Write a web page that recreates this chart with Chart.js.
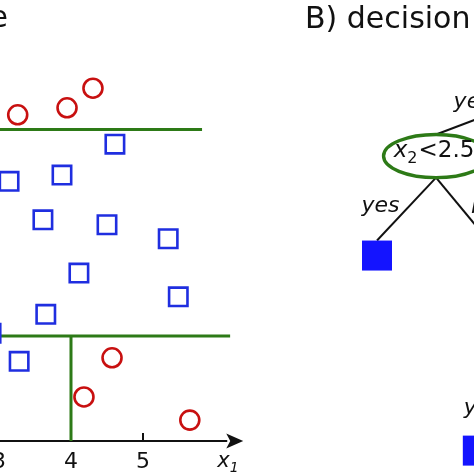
<!DOCTYPE html>
<html>
<head>
<meta charset="utf-8">
<title>feature space and decision tree</title>
<script src="https://cdn.jsdelivr.net/npm/chart.js@4.4.1/dist/chart.umd.min.js"></script>
<style>
  html, body { margin: 0; padding: 0; background: #fff; }
  canvas { display: block; }
</style>
</head>
<body>
<canvas id="chart" width="474" height="474"></canvas>
<script>
// Scatter points (x1, x2)
const circleX1 = [3.26, 3.945, 4.305, 4.57, 4.18, 5.65];
const circleX2 = [5.66, 5.76, 6.04, 2.19, 1.63, 1.30];
const squareX1 = [4.61, 3.14, 3.875, 3.61, 4.50, 5.35, 4.11, 5.49, 3.65, 2.89, 3.28];
const squareX2 = [5.24, 4.71, 4.80, 4.16, 4.09, 3.89, 3.40, 3.06, 2.81, 2.54, 2.14];
const xTicks = [3, 4, 5];

// Split lines found by the tree
const splitHigh = 5.45;
const splitLow = 2.5;
const splitX1 = 4;
const highLineEnd = 5.82;
const lowLineEnd = 6.21;

// x1 axis (crosses at x2 = 1)
const axisX2 = 1;
const axisFrom = 2.9;
const axisTo = 6.17;

// Decision tree, node centres in the same units (mostly right of the plot)
const nodeX = [11.9, 9.07, 10.375];
const nodeY = [6.786, 5.071, 2.836];
const nodeVar = ['x', 'x', 'x'];
const nodeSub = ['2', '2', '1'];
const nodeTest = ['<5.5', '<2.5', '<4'];
const leafX = [8.25, 9.65, 13.4, 11.1];
const leafY = [3.65, 0.864, 5.07, 0.864];
const leafClass = ['square', 'square', 'circle', 'circle'];
const edgeFrom = [0, 1, 1, 2, 0, 2];
const edgeTo = ['n1', 'l0', 'n2', 'l1', 'l2', 'l3'];
const edgeText = ['yes', 'yes', 'no', 'yes', 'no', 'no'];

// where each edge label sits (fraction along edge + pixel shift)
const edgeLabelPos = [
    { t: 0.85, dx: -13, dy: -15, align: 'left' },
    { t: 0.5, dx: -7, dy: 3, align: 'right' },
    { t: 0.277, dx: 9, dy: 4, align: 'left' },
    { t: 0.75, dx: -27, dy: 4, align: 'left' },
    { t: 0.5, dx: 8, dy: 4, align: 'left' },
    { t: 0.5, dx: 8, dy: 4, align: 'left' }
];

const FONT = '"DejaVu Sans", sans-serif';
const RED = '#c81010';
const BLUE = '#1f2ee0';
const LEAF_BLUE = '#1414ff';
const GREEN = '#2d7a17';
const NODE_RX = 52.5, NODE_RY = 21.6, LEAF_HALF = 15;

function pts(xs, ys) {
    return xs.map((x, i) => ({ x: x, y: ys[i] }));
}

function edgeEnds(xs, ys, from, to) {
    const a = { x: xs.getPixelForValue(nodeX[from]), y: ys.getPixelForValue(nodeY[from]) + NODE_RY };
    const idx = parseInt(to.slice(1));
    let b;
    if (to[0] === 'n') {
        b = { x: xs.getPixelForValue(nodeX[idx]), y: ys.getPixelForValue(nodeY[idx]) - NODE_RY };
    } else {
        b = { x: xs.getPixelForValue(leafX[idx]), y: ys.getPixelForValue(leafY[idx]) - LEAF_HALF };
    }
    return [a, b];
}

// x with subscript, then the rest upright
function mathWidth(c, v, sub, rest, size) {
    c.font = 'italic ' + size + 'px ' + FONT;
    let w = c.measureText(v).width;
    c.font = Math.round(size * 0.68) + 'px ' + FONT;
    w += c.measureText(sub).width;
    if (rest) {
        c.font = size + 'px ' + FONT;
        w += c.measureText(rest).width + 1;
    }
    return w;
}

function drawMath(c, x, y, v, sub, rest, size, subItalic) {
    c.textAlign = 'left';
    c.textBaseline = 'alphabetic';
    c.font = 'italic ' + size + 'px ' + FONT;
    c.fillText(v, x, y);
    x += c.measureText(v).width;
    c.font = (subItalic ? 'italic ' : '') + Math.round(size * 0.68) + 'px ' + FONT;
    c.fillText(sub, x, y + size * 0.24);
    x += c.measureText(sub).width;
    if (rest) {
        c.font = size + 'px ' + FONT;
        c.fillText(rest, x + 1, y);
    }
}

const treeAndText = {
    id: 'treeAndText',
    beforeDatasetsDraw(chart) {
        const c = chart.ctx, xs = chart.scales.x, ys = chart.scales.y;
        c.save();
        c.strokeStyle = '#111';
        c.lineWidth = 2;
        edgeFrom.forEach((f, i) => {
            const [a, b] = edgeEnds(xs, ys, f, edgeTo[i]);
            c.beginPath();
            c.moveTo(a.x, a.y);
            c.lineTo(b.x, b.y);
            c.stroke();
        });
        c.restore();
    },
    afterDatasetsDraw(chart) {
        const c = chart.ctx, xs = chart.scales.x, ys = chart.scales.y;
        c.save();
        c.fillStyle = '#111';

        // tree nodes
        nodeX.forEach((nx, i) => {
            const cx = xs.getPixelForValue(nx), cy = ys.getPixelForValue(nodeY[i]);
            c.beginPath();
            c.ellipse(cx, cy, NODE_RX, NODE_RY, 0, 0, Math.PI * 2);
            c.fillStyle = '#fff';
            c.fill();
            c.strokeStyle = GREEN;
            c.lineWidth = 3.4;
            c.stroke();
            c.fillStyle = '#111';
            const w = mathWidth(c, nodeVar[i], nodeSub[i], nodeTest[i], 23);
            drawMath(c, cx - w / 2 - 2, cy + 1, nodeVar[i], nodeSub[i], nodeTest[i], 23, false);
        });

        // edge labels
        c.font = 'italic 22px ' + FONT;
        c.textBaseline = 'alphabetic';
        edgeFrom.forEach((f, i) => {
            const [a, b] = edgeEnds(xs, ys, f, edgeTo[i]);
            const p = edgeLabelPos[i];
            c.textAlign = p.align;
            c.fillText(edgeText[i], a.x + (b.x - a.x) * p.t + p.dx, a.y + (b.y - a.y) * p.t + p.dy);
        });

        // arrow head on the x1 axis
        const meta = chart.getDatasetMeta(chart.data.datasets.findIndex(d => d.label === 'axis'));
        const end = meta.data[meta.data.length - 1];
        c.beginPath();
        c.moveTo(end.x + 16, end.y);
        c.lineTo(end.x - 1, end.y - 7.5);
        c.lineTo(end.x + 3, end.y);
        c.lineTo(end.x - 1, end.y + 7.5);
        c.closePath();
        c.fill();
        drawMath(c, end.x - 10, end.y + 26, 'x', '1', '', 21, true);

        // panel titles
        c.font = '30px ' + FONT;
        c.textBaseline = 'alphabetic';
        c.textAlign = 'right';
        c.fillText('A) feature space', 8, 27);
        c.textAlign = 'left';
        c.fillText('B) decision tree', 305, 28);
        c.restore();
    }
};

new Chart(document.getElementById('chart').getContext('2d'), {
    type: 'scatter',
    data: {
        datasets: [
            {
                label: 'class circle',
                data: pts(circleX1, circleX2),
                pointStyle: 'circle',
                pointRadius: 9.5,
                borderWidth: 2.6,
                borderColor: RED,
                backgroundColor: 'rgba(0,0,0,0)',
                order: 1
            },
            {
                label: 'class square',
                data: pts(squareX1, squareX2),
                pointStyle: 'rect',
                pointRadius: 13,
                borderWidth: 2.6,
                borderColor: BLUE,
                backgroundColor: 'rgba(0,0,0,0)',
                order: 1
            },
            {
                label: 'tree leaves',
                data: pts(leafX, leafY),
                pointStyle: leafClass.map(k => k === 'square' ? 'rect' : 'circle'),
                pointRadius: leafClass.map(k => k === 'square' ? LEAF_HALF / Math.SQRT1_2 : LEAF_HALF),
                borderWidth: 0,
                backgroundColor: leafClass.map(k => k === 'square' ? LEAF_BLUE : RED),
                order: 1
            },
            {
                label: 'split high',
                data: [{ x: axisFrom, y: splitHigh }, { x: highLineEnd, y: splitHigh }],
                showLine: true, pointRadius: 0, borderColor: GREEN, borderWidth: 3, order: 2
            },
            {
                label: 'split low',
                data: [{ x: axisFrom, y: splitLow }, { x: lowLineEnd, y: splitLow }],
                showLine: true, pointRadius: 0, borderColor: GREEN, borderWidth: 3, order: 2
            },
            {
                label: 'split x1',
                data: [{ x: splitX1, y: splitLow }, { x: splitX1, y: axisX2 }],
                showLine: true, pointRadius: 0, borderColor: GREEN, borderWidth: 3, order: 2
            },
            {
                label: 'axis',
                data: [{ x: axisFrom, y: axisX2 }, { x: axisTo, y: axisX2 }],
                showLine: true, pointRadius: 0, borderColor: '#111', borderWidth: 2, order: 3
            }
        ]
    },
    options: {
        responsive: false,
        animation: false,
        layout: { padding: 0, autoPadding: false },
        plugins: { legend: { display: false }, tooltip: { enabled: false } },
        scales: {
            x: {
                type: 'linear',
                axis: 'x',
                min: 3.014,
                max: 9.597,
                position: { y: axisX2 },
                border: { display: false },
                grid: { display: true, drawOnChartArea: false, drawTicks: true, tickLength: -8, color: '#111', lineWidth: 2 },
                ticks: { color: '#111', font: { family: 'DejaVu Sans', size: 22 }, padding: 16, autoSkip: false, maxRotation: 0 },
                afterBuildTicks: s => { s.ticks = xTicks.map(v => ({ value: v })); },
                // the axis sits inside the plot, so it should take no room of its own
                afterFit: s => {
                    s.height = 0;
                    s.paddingLeft = 0;
                    s.paddingRight = 0;
                    s.paddingTop = 0;
                    s.paddingBottom = 0;
                }
            },
            y: {
                type: 'linear',
                display: false,
                min: 0.53,
                max: 7.3
            }
        }
    },
    plugins: [treeAndText]
});
</script>
</body>
</html>
